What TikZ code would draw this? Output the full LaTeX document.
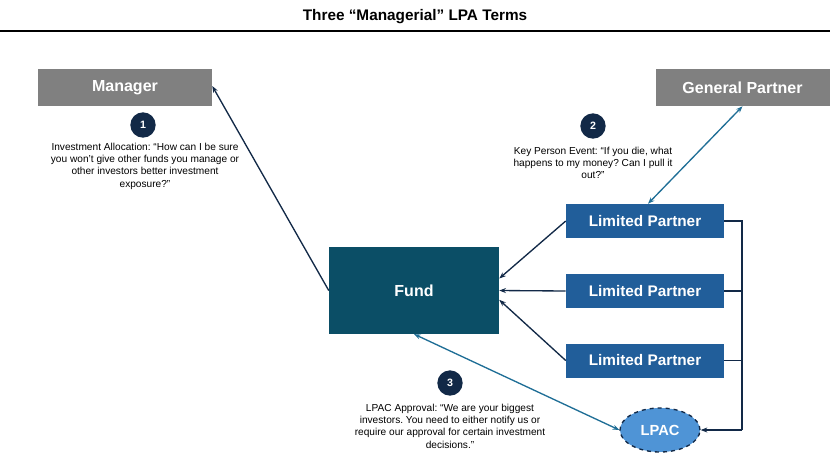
\documentclass[tikz,border=0pt]{standalone}
\usepackage{fontspec}
\setmainfont{Liberation Sans}
\usetikzlibrary{shapes.geometric,arrows.meta}
\definecolor{mgray}{RGB}{128,128,128}
\definecolor{navy}{RGB}{18,41,71}
\definecolor{lpblue}{RGB}{33,94,154}
\definecolor{fundc}{RGB}{11,78,102}
\definecolor{teal}{RGB}{31,110,150}
\definecolor{lpacc}{RGB}{79,148,214}
\tikzset{
  gbox/.style = {fill = mgray, text = white, font = \bfseries\fontsize{12}{14}\selectfont, minimum width = 130.5pt, minimum height = 27.75pt, inner sep = 0pt},
  lbox/.style = {fill = lpblue, text = white, font = \bfseries\fontsize{11.5}{14}\selectfont, minimum width = 118.5pt, minimum height = 25.5pt, inner sep = 0pt},
  num/.style = {circle, fill = navy, text = white, font = \bfseries\fontsize{8}{9}\selectfont, minimum size = 19pt, inner sep = 0pt},
  note/.style = {align = center, font = \frenchspacing\fontsize{7.6}{9.2}\selectfont},
  nav/.style = {draw = navy, line width = 1pt, -{Stealth[length=5pt]}},
  tl/.style = {draw = teal, line width = 1pt, {Stealth[length=5pt]}-{Stealth[length=5pt]}}
}
\begin{document}
\begin{tikzpicture}[x = 0.75pt, y = -0.75pt]
        \useasboundingbox (0,0) rectangle (830,458);
        %Title
        \node [font = \bfseries\fontsize{11.5}{13}\selectfont] (title) at (415,17) {Three “Managerial” LPA Terms};
        \draw [line width = 1pt] (0,31) -- (830,31);
        %Manager, GP
        \node [gbox] (man) at (125,87.5) {Manager};
        \node [gbox] (gp) at (742.5,87.5) {General Partner};
        %Fund
        \node [fill = fundc, text = white, font = \bfseries\fontsize{12}{14}\selectfont, minimum width = 127.5pt, minimum height = 65pt]
        (fund) at (414,290.5) {Fund};
        %Limited Partners
        \node [lbox] (lp1) at (645,221) {Limited Partner};
        \node [lbox] (lp2) at (645,291) {Limited Partner};
        \node [lbox] (lp3) at (645,360.5) {Limited Partner};
        %LPAC
        \node [ellipse, draw = navy, dashed, line width = 1pt, fill = lpacc, text = white, font = \bfseries\fontsize{11}{13}\selectfont, minimum width = 60pt, minimum height = 33pt]
        (lpac) at (660,430) {LPAC};
        %Numbers and notes
        \node [num] (n1) at (143,125) {1};
        \node [note] (t1) at (145,166) {Investment Allocation: “How can I be sure\\you won’t give other funds you manage or\\other investors better investment\\exposure?”};
        \node [num] (n2) at (593,126) {2};
        \node [note] (t2) at (593,163) {Key Person Event: “If you die, what\\happens to my money? Can I pull it\\out?”};
        \node [num] (n3) at (450,383) {3};
        \node [note] (t3) at (450,426) {LPAC Approval: “We are your biggest\\investors. You need to either notify us or\\require our approval for certain investment\\decisions.”};
        %Connectors
        \coordinate (br) at (742,0);
        \draw [nav] (fund.west) -- (man.north east |- 0,86) coordinate (mtip);
        \draw [tl] (lp1.north) ++(3,0) coordinate (lptop) (lptop) -- (gp.south);
        \draw [nav] (lp1.west) -- ([yshift = 9pt]fund.east);
        \draw [nav] (lp2.west) -- (fund.east);
        \draw [nav] (lp3.west) -- ([yshift = -7pt]fund.east);
        \draw [tl] (fund.south) -- (lpac.west);
        \draw [draw = navy, line width = 1.2pt] (lp1.east) -| (br |- lpac.east);
        \draw [draw = navy, line width = 1.2pt] (lp2.east) -- (br |- lp2.east);
        \draw [draw = navy, line width = 1.2pt] (lp3.east) -- (br |- lp3.east);
        \draw [nav, line width = 1.2pt] (br |- lpac.east) -- (lpac.east);
\end{tikzpicture}
\end{document}
